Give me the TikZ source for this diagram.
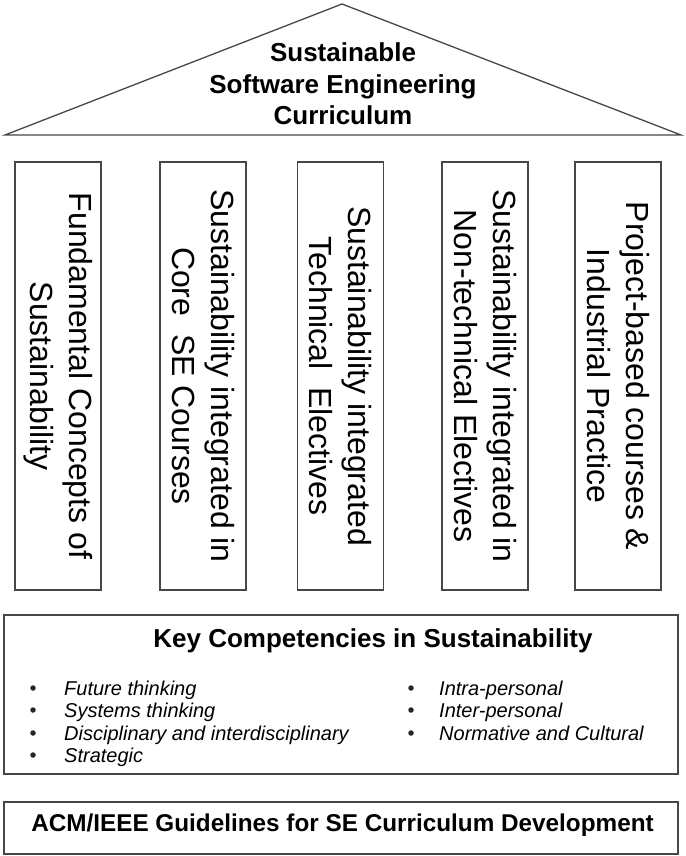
\documentclass[tikz,border=0pt]{standalone}
\usepackage{fontspec}
\setmainfont{Liberation Sans}
\begin{document}
\begin{tikzpicture}[x=1pt,y=1pt,
  frame/.style={draw=black!72, line width=1.3pt},
  pillar/.style={frame, rotate=-90, minimum width=428pt, minimum height=86pt, inner sep=0pt, align=center, font=\fontsize{32}{39}\selectfont},
  item/.style={anchor=base west, inner sep=0pt, font=\fontsize{20}{22}\selectfont\itshape},
  dot/.style={circle, fill=black!85, minimum size=5.5pt, inner sep=0pt}]
\useasboundingbox (0,0) rectangle (685,-856);
% roof
\coordinate (apex) at (342,-4);
\coordinate (bl) at (5,-135);
\coordinate (br) at (681,-135);
\draw[frame, line join=miter] (apex) -- (br) -- (bl) -- cycle;
\node[align=center, font=\fontsize{26}{31.5}\selectfont\bfseries] (roof) at (343,-84) {Sustainable\\Software Engineering\\Curriculum};
% pillars
\node[pillar] (p1) at (58,-376) {Fundamental Concepts of\\Sustainability};
\node[pillar] (p2) at (203,-376) {Sustainability integrated in\\Core\ \ SE Courses};
\node[pillar] (p3) at (340.5,-376) {Sustainability integrated\\Technical\ \ Electives};
\node[pillar] (p4) at (485,-376) {Sustainability integrated in\\Non-technical Electives};
\node[pillar] (p5) at (618,-376) {Project-based courses \&\\Industrial Practice};
% key competencies
\node[frame, minimum width=674pt, minimum height=159pt, inner sep=0pt] (key) at (341,-694.5) {};
\node[font=\fontsize{26}{31}\selectfont\bfseries, inner sep=0pt] (keyt) at (373,-641) {Key Competencies in Sustainability};
\node[dot] (b1) at (33,-688) {};
\node[item] (i1) at (64,-695) {Future thinking};
\node[dot] (b2) at (33,-710) {};
\node[item] (i2) at (64,-717) {Systems thinking};
\node[dot] (b3) at (33,-733) {};
\node[item] (i3) at (64,-740) {Disciplinary and interdisciplinary};
\node[dot] (b4) at (33,-755) {};
\node[item] (i4) at (64,-762) {Strategic};
\node[dot] (b5) at (411,-688) {};
\node[item] (i5) at (439,-695) {Intra-personal};
\node[dot] (b6) at (411,-710) {};
\node[item] (i6) at (439,-717) {Inter-personal};
\node[dot] (b7) at (411,-733) {};
\node[item] (i7) at (439,-740) {Normative and Cultural};
% ACM
\node[frame, minimum width=674pt, minimum height=52pt, inner sep=0pt] (acm) at (341,-828) {};
\node[font=\fontsize{24.3}{29}\selectfont\bfseries, inner sep=0pt] (acmt) at (342.5,-825) {ACM/IEEE Guidelines for SE Curriculum Development};
\end{tikzpicture}
\end{document}
